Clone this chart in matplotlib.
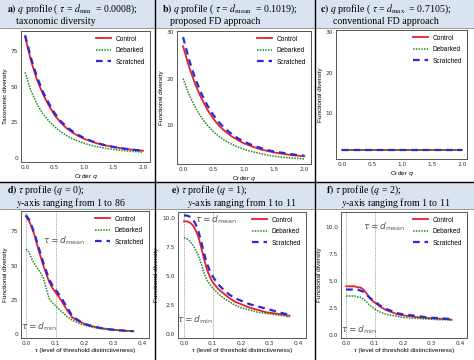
import matplotlib
matplotlib.use("Agg")
import matplotlib.pyplot as plt
from matplotlib.patches import Rectangle
from matplotlib.lines import Line2D

W, H = 474, 360

# order q grid (panels a-c)
q = [0.0, 0.1, 0.2, 0.3, 0.4, 0.5, 0.6, 0.7, 0.8, 0.9, 1.0,
     1.1, 1.2, 1.3, 1.4, 1.5, 1.6, 1.7, 1.8, 1.9, 2.0]

# a) taxonomic diversity
a_control = [85, 68, 55, 45, 37, 30, 25, 21, 18, 15.5, 13.5, 12, 10.5, 9.4, 8.5, 7.7, 7, 6.4, 5.9, 5.5, 5.1]
a_debarked = [60, 47, 38, 31, 26, 22, 18.5, 15.8, 13.5, 11.8, 10.3, 9.1, 8.1, 7.3, 6.6, 6, 5.5, 5.1, 4.7, 4.4, 4.1]
a_scratched = [86, 70, 57, 46.5, 38.5, 31.5, 26, 22, 18.8, 16.2, 14, 12.3, 10.8, 9.6, 8.6, 7.8, 7.1, 6.5, 6, 5.5, 5.1]

# b) proposed FD approach
b_control = [27, 22.5, 18.8, 15.8, 13.3, 11.3, 9.7, 8.5, 7.5, 6.7, 6.0, 5.5, 5.0, 4.6, 4.3, 4.0, 3.8, 3.6, 3.4, 3.3, 3.2]
b_debarked = [20, 16.5, 13.8, 11.6, 9.9, 8.5, 7.4, 6.5, 5.8, 5.2, 4.7, 4.3, 4.0, 3.7, 3.4, 3.2, 3.0, 2.9, 2.8, 2.7, 2.6]
b_scratched = [29, 24, 20, 16.8, 14.2, 12.1, 10.4, 9.1, 8.0, 7.1, 6.4, 5.8, 5.3, 4.9, 4.5, 4.2, 4.0, 3.8, 3.6, 3.4, 3.3]

# c) conventional FD approach
c_control = [1.0] * 21
c_debarked = [1.0] * 21
c_scratched = [1.0] * 21

# tau grid (panels d-f)
tau = [0, 0.01, 0.02, 0.03, 0.04, 0.05, 0.06, 0.07, 0.08, 0.09, 0.10,
       0.12, 0.14, 0.16, 0.18, 0.20, 0.23, 0.26, 0.29, 0.32, 0.35, 0.37]

d_control = [86, 83, 78, 72, 64, 57, 50, 44, 38, 34, 31, 25, 18, 12, 9.5, 7.5, 5.5, 4.2, 3.3, 2.7, 2.2, 2]
d_debarked = [62, 60, 55, 51, 48, 45, 41, 33, 26, 23, 21, 17, 13, 10, 8, 6.5, 4.8, 3.8, 3, 2.5, 2.1, 1.9]
d_scratched = [87, 84, 79, 73, 66, 59, 52, 46, 40, 36, 33, 27, 20, 13, 10, 7.5, 5.5, 4.2, 3.3, 2.7, 2.2, 2]

e_control = [9.7, 9.7, 9.6, 9.4, 9.0, 8.4, 7.5, 6.5, 5.6, 5.0, 4.5, 3.9, 3.5, 3.1, 2.8, 2.6, 2.3, 2.1, 1.9, 1.8, 1.7, 1.6]
e_debarked = [8.3, 8.2, 8.0, 7.7, 7.3, 6.8, 6.1, 5.3, 4.7, 4.3, 4.0, 3.5, 3.1, 2.8, 2.5, 2.3, 2.1, 1.9, 1.8, 1.7, 1.6, 1.5]
e_scratched = [10.2, 10.2, 10.1, 9.9, 9.5, 8.9, 8.0, 7.0, 6.1, 5.5, 5.0, 4.3, 3.8, 3.4, 3.1, 2.9, 2.6, 2.4, 2.2, 2.0, 1.8, 1.7]

f_control = [4.5, 4.5, 4.5, 4.5, 4.4, 4.4, 4.2, 3.9, 3.5, 3.2, 3.0, 2.6, 2.3, 2.1, 1.9, 1.8, 1.7, 1.6, 1.55, 1.5, 1.45, 1.4]
f_debarked = [3.6, 3.6, 3.6, 3.6, 3.5, 3.5, 3.3, 3.1, 2.8, 2.6, 2.4, 2.1, 1.9, 1.8, 1.7, 1.6, 1.55, 1.5, 1.45, 1.4, 1.4, 1.35]
f_scratched = [4.2, 4.2, 4.2, 4.2, 4.2, 4.1, 4.0, 3.8, 3.5, 3.3, 3.1, 2.7, 2.4, 2.2, 2.0, 1.9, 1.8, 1.7, 1.6, 1.55, 1.5, 1.45]

d_min = 0.0008
d_mean = 0.1019

titles = [
    (r"$\mathbf{a)}$ $q$ profile ( $\tau$ = $d_{\rm min}$  = 0.0008);", "taxonomic diversity"),
    (r"$\mathbf{b)}$ $q$ profile ( $\tau$ = $d_{\rm mean}$  = 0.1019);", "proposed FD approach"),
    (r"$\mathbf{c)}$ $q$ profile ( $\tau$ = $d_{\rm max}$  = 0.7105);", "conventional FD approach"),
    (r"$\mathbf{d)}$ $\tau$ profile ($q$ = 0);", r"$y$-axis ranging from 1 to 86"),
    (r"$\mathbf{e)}$ $\tau$ profile ($q$ = 1);", r"$y$-axis ranging from 1 to 11"),
    (r"$\mathbf{f)}$ $\tau$ profile ($q$ = 2);", r"$y$-axis ranging from 1 to 11"),
]

RED, GREEN, BLUE = "#e8202a", "#1e8a1e", "#2a2ad8"


def box(l, t, r, b):
    return [l / W, 1 - b / H, (r - l) / W, (b - t) / H]


fig = plt.figure(figsize=(W / 100, H / 100), dpi=100)
fig.patch.set_facecolor("white")

# header bands and grid lines
for (x0, x1) in [(0, 155), (155, 315), (315, 474)]:
    for (y0, y1) in [(0, 28), (182, 209)]:
        fig.patches.append(Rectangle((x0 / W, 1 - y1 / H), (x1 - x0) / W, (y1 - y0) / H,
                                     transform=fig.transFigure, facecolor="#d9e4f0",
                                     edgecolor="none", zorder=0))
for y in [28, 209]:
    fig.add_artist(Line2D([0, 1], [1 - y / H] * 2, color="#8a8a8a", lw=0.6))
fig.add_artist(Line2D([0, 1], [1 - 182 / H] * 2, color="black", lw=1.0))
for x in [155, 315]:
    fig.add_artist(Line2D([x / W] * 2, [0, 1], color="black", lw=1.0))

title_pos = [(7, 16), (162, 170), (320, 333), (7, 16), (171, 187), (326, 341)]
for i, (t1, t2) in enumerate(titles):
    row = i // 3
    y1 = 9.5 if row == 0 else 190.5
    y2 = 22 if row == 0 else 203.5
    x1, x2 = title_pos[i]
    fig.text(x1 / W, 1 - y1 / H, t1, family="Liberation Serif", math_fontfamily="stix",
             fontsize=7.1, va="center", ha="left")
    fig.text(x2 / W, 1 - y2 / H, t2, family="Liberation Serif", math_fontfamily="stix",
             fontsize=7.1, va="center", ha="left")

panels = [
    dict(box=(21, 31, 150, 162), x=q, ys=(a_control, a_debarked, a_scratched),
         xlim=(-0.07, 2.12), ylim=(-2.8, 89), yt=[0, 25, 50, 75], ylabel="Taxonomic diversity"),
    dict(box=(177, 31, 311, 164), x=q, ys=(b_control, b_debarked, b_scratched),
         xlim=(-0.1, 2.11), ylim=(1.5, 30.3), yt=[10, 20, 30], ylabel="Functional diversity"),
    dict(box=(336, 30, 467, 159), x=q, ys=(c_control, c_debarked, c_scratched),
         xlim=(-0.1, 2.08), ylim=(-1.3, 30.5), yt=[10, 20, 30], ylabel="Functional diversity"),
    dict(box=(21, 211, 149, 338), x=tau, ys=(d_control, d_debarked, d_scratched),
         xlim=(-0.017, 0.424), ylim=(-3, 90), yt=[0, 25, 50, 75], ylabel="Functional diversity",
         ann=((0.13, 68), (0.045, 5))),
    dict(box=(178, 212, 306, 338), x=tau, ys=(e_control, e_debarked, e_scratched),
         xlim=(-0.021, 0.428), ylim=(-0.3, 10.5), yt=[0.0, 2.5, 5.0, 7.5, 10.0],
         ylabel="Functional diversity", ann=((0.112, 9.8), (0.039, 1.3))),
    dict(box=(341, 212, 467, 338), x=tau, ys=(f_control, f_debarked, f_scratched),
         xlim=(-0.018, 0.424), ylim=(-0.3, 11.4), yt=[0.0, 2.5, 5.0, 7.5, 10.0],
         ylabel="Functional diversity", ann=((0.133, 10.0), (0.045, 0.46))),
]

for i, p in enumerate(panels):
    ax = fig.add_axes(box(*p["box"]))
    yc, yd, ys = p["ys"]
    ax.plot(p["x"], yc, color=RED, lw=1.3, label="Control", zorder=3)
    ax.plot(p["x"], yd, color=GREEN, lw=1.1, ls=(0, (1, 0.8)), label="Debarked", zorder=4)
    ax.plot(p["x"], ys, color=BLUE, lw=1.6, ls=(0, (3, 2.2)), label="Scratched", zorder=5)
    ax.set_xlim(*p["xlim"])
    ax.set_ylim(*p["ylim"])
    ax.set_yticks(p["yt"])
    if i < 3:
        ax.set_xticks([0.0, 0.5, 1.0, 1.5, 2.0])
        ax.set_xticklabels(["0.0", "0.5", "1.0", "1.5", "2.0"])
        ax.set_xlabel("Order $q$", fontsize=4.6, labelpad=1.5, family="Liberation Sans")
    else:
        ax.set_xticks([0.0, 0.1, 0.2, 0.3, 0.4])
        ax.set_xticklabels(["0.0", "0.1", "0.2", "0.3", "0.4"])
        ax.set_xlabel("τ (level of threshold distinctiveness)", fontsize=4.6, labelpad=1.5,
                      family="Liberation Sans")
        ax.set_yticklabels([f"{v:.1f}" if isinstance(v, float) else str(v) for v in p["yt"]])
        for xv in (d_min, d_mean):
            ax.axvline(xv, color="#888888", lw=0.6, ls=(0, (1, 1.2)), zorder=1)
        (mx, my), (nx, ny) = p["ann"]
        ax.text(mx, my, r"$\tau = d_{\rm mean}$", math_fontfamily="dejavusans",
                fontsize=6.5, color="#555555", ha="center", va="center")
        ax.text(nx, ny, r"$\tau = d_{\rm min}$", math_fontfamily="dejavusans",
                fontsize=6.5, color="#555555", ha="center", va="center")
    ax.set_ylabel(p["ylabel"], fontsize=4.6, labelpad=2, family="Liberation Sans")
    ax.tick_params(length=0, labelsize=4.2, pad=2, labelcolor="#333333")
    for s in ax.spines.values():
        s.set_color("#555555")
        s.set_linewidth(0.7)
    ax.legend(loc="upper right", frameon=False, handlelength=2.2,
              borderaxespad=0.3, labelspacing=0.7, prop={"family": "Liberation Sans", "size": 4.7})

fig.savefig("out.png", dpi=100)
